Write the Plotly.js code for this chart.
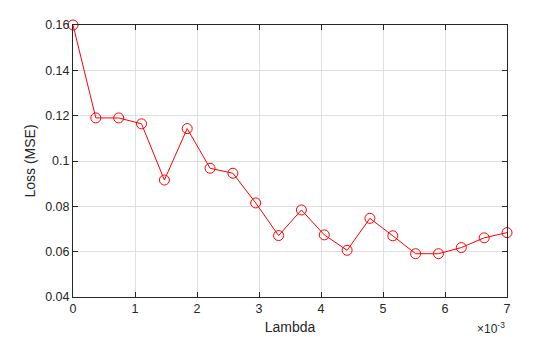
<!DOCTYPE html>
<html>
<head>
<meta charset="utf-8">
<script src="https://cdn.plot.ly/plotly-3.0.1.min.js"></script>
<style>html,body{margin:0;padding:0;background:#fff;}#chart{width:560px;height:337px;}</style>
</head>
<body>
<div id="chart"></div>
<script>
const lambda = [0, 0.000368, 0.000737, 0.001105, 0.001474, 0.001842, 0.002211, 0.002579, 0.002947, 0.003316,
                0.003684, 0.004053, 0.004421, 0.004789, 0.005158, 0.005526, 0.005895, 0.006263, 0.006632, 0.007];
const loss = [0.1600, 0.1190, 0.1190, 0.1164, 0.0916, 0.1143, 0.0968, 0.0946, 0.0815, 0.0671,
              0.0784, 0.0674, 0.0606, 0.0747, 0.0670, 0.0591, 0.0591, 0.0618, 0.0661, 0.0684];
const xTickVals = [0, 0.001, 0.002, 0.003, 0.004, 0.005, 0.006, 0.007];
const xTickText = ['0', '1', '2', '3', '4', '5', '6', '7'];
const yTickVals = [0.04, 0.06, 0.08, 0.1, 0.12, 0.14, 0.16];
const yTickText = ['0.04', '0.06', '0.08', '0.1', '0.12', '0.14', '0.16'];

const FONT = 'Liberation Sans, Arial, sans-serif';
const axisCommon = {
  showline: true, linecolor: '#262626', linewidth: 1, mirror: 'ticks',
  ticks: 'inside', ticklen: 5, tickcolor: '#262626', tickwidth: 1,
  showgrid: true, gridcolor: '#dfdfdf', gridwidth: 1, zeroline: false,
  tickfont: {family: FONT, size: 12.5, color: '#262626'}
};

const data = [{
  x: lambda, y: loss, type: 'scatter', mode: 'lines+markers',
  line: {color: '#ff0000', width: 1},
  marker: {symbol: 'circle-open', size: 10, color: '#ff0000', line: {width: 1, color: '#ff3030'}},
  cliponaxis: false
}];

const layout = {
  width: 560, height: 337,
  margin: {l: 73, r: 53, t: 25, b: 40},
  paper_bgcolor: '#ffffff', plot_bgcolor: '#ffffff',
  showlegend: false,
  font: {family: FONT, color: '#262626'},
  xaxis: Object.assign({}, axisCommon, {
    range: [0, 0.007], tickvals: xTickVals, ticktext: xTickText,
    title: {text: 'Lambda', font: {family: FONT, size: 14, color: '#262626'}, standoff: 7}
  }),
  yaxis: Object.assign({}, axisCommon, {
    range: [0.04, 0.16], tickvals: yTickVals, ticktext: yTickText,
    title: {text: 'Loss (MSE)', font: {family: FONT, size: 14, color: '#262626'}, standoff: 6}
  }),
  annotations: [{
    xref: 'paper', yref: 'paper', x: 1, y: 0, xanchor: 'right', yanchor: 'top', yshift: -21,
    text: '×10<sup>-3</sup>', showarrow: false,
    font: {family: FONT, size: 12, color: '#262626'}
  }]
};

Plotly.newPlot('chart', data, layout, {displayModeBar: false, staticPlot: true});
</script>
</body>
</html>
